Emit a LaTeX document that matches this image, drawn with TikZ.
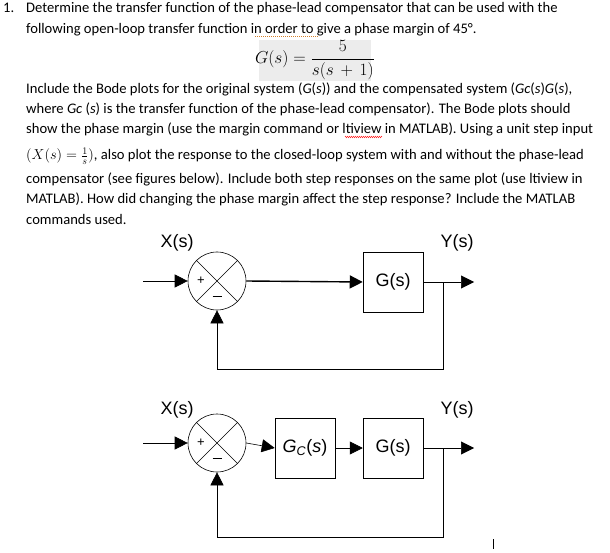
\documentclass[tikz,border=0pt]{standalone}
\usepackage{fontspec}
\setmainfont{Carlito}
\newfontfamily\arial{Liberation Sans}
\usetikzlibrary{arrows.meta,decorations.pathmorphing}
\begin{document}
\begin{tikzpicture}[x=1pt,y=-1pt,
  txt/.style={anchor=base west,inner sep=0,font=\fontsize{14.6}{16}\selectfont},
  blk/.style={draw,line width=0.5pt,minimum width=60pt,minimum height=60pt,inner sep=0,font=\arial\fontsize{18}{20}\selectfont},
  sumc/.style={draw,circle,minimum size=58pt,inner sep=0,line width=0.6pt},
  lab/.style={font=\arial\fontsize{18}{20}\selectfont,inner sep=0},
  pm/.style={font=\arial\fontsize{13}{13}\selectfont,inner sep=0},
  sig/.style={line width=0.6pt,-{Triangle[length=13pt,width=13pt]}},
  ln/.style={line width=0.6pt}]
\useasboundingbox (0,0) rectangle (610,553);
\node[txt] (n1) at (3,13) {1.};
\node[txt] (l1) at (26,13) {Determine the transfer function of the phase-lead compensator that can be used with the};
\node[txt] (l2) at (26,34) {following open-loop transfer function in order to give a phase margin of 45°.};
\draw[densely dotted,line width=1pt,color=brown!70!orange] (255,37) -- (318,37);
\fill[gray!15] (259,40) rectangle (371,81);
\node[anchor=center,inner sep=0,font=\fontsize{17}{19}\selectfont] (eq) at (315,60) {$\displaystyle G(s)=\frac{5}{s(s\,+\,1)}$};
\node[txt] (l3) at (26,94) {Include the Bode plots for the original system (\textit{G}(\textit{s})) and the compensated system (\textit{Gc}(\textit{s})\textit{G}(\textit{s}),};
\node[txt] (l4) at (26,114) {where \textit{Gc} (\textit{s}) is the transfer function of the phase-lead compensator). The Bode plots should};
\node[txt] (l5) at (26,134) {show the phase margin (use the margin command or ltiview in MATLAB). Using a unit step input};
\draw[red,line width=0.4pt,decorate,decoration={zigzag,amplitude=0.7pt,segment length=2pt}] (345,137) -- (382,137);
\node[txt] (l6) at (26,160) {$\bigl(X(s)=\frac{1}{s}\bigr)$, also plot the response to the closed-loop system with and without the phase-lead};
\node[txt] (l7) at (26,184) {compensator (see figures below). Include both step responses on the same plot (use ltiview in};
\node[txt] (l8) at (26,204) {MATLAB). How did changing the phase margin affect the step response? Include the MATLAB};
\node[txt] (l9) at (26,225) {commands used.};

% diagram 1
\node[sumc] (s1) at (217,281) {};
\draw[ln] (s1.45) -- (s1.225) (s1.135) -- (s1.315);
\node[pm] at (201,281) {+};
\node[pm] at (217,297) {\rule[0.3ex]{9pt}{0.9pt}};
\node[blk] (g1) at (393,282) {G(s)};
\coordinate (i1) at (143,281);
\coordinate (b1) at (443,282);
\coordinate (o1) at (474,282);
\coordinate (f1) at (443,369);
\coordinate (f1b) at (217,369);
\draw[sig] (i1) -- (s1.west);
\draw[sig,line width=1.4pt] (s1.east) -- (g1.west);
\draw[ln] (g1.east) -- (b1);
\draw[sig] (b1) -- (o1);
\draw[sig] (b1) -- (f1) -- (f1b) -- (s1.south);
\node[lab] (x1) at (177,243) {X(s)};
\node[lab] (y1) at (457,243) {Y(s)};

% diagram 2
\node[sumc] (s2) at (217,443) {};
\draw[ln] (s2.45) -- (s2.225) (s2.135) -- (s2.315);
\node[pm] at (201,443) {+};
\node[pm] at (217,459) {\rule[0.3ex]{9pt}{0.9pt}};
\node[blk] (gc) at (305,448) {\textit{G\textsubscript{C}}(\textit{s})};
\node[blk] (g2) at (393,448) {G(s)};
\coordinate (i2) at (143,443);
\coordinate (b2) at (443,448);
\coordinate (o2) at (474,448);
\coordinate (f2) at (443,537);
\coordinate (f2b) at (217,537);
\draw[sig] (i2) -- (s2.west);
\draw[sig] (s2.east) -- (gc.west);
\draw[sig] (gc.east) -- (g2.west);
\draw[ln] (g2.east) -- (b2);
\draw[sig] (b2) -- (o2);
\draw[sig] (b2) -- (f2) -- (f2b) -- (s2.south);
\node[lab] (x2) at (177,410) {X(s)};
\node[lab] (y2) at (457,410) {Y(s)};
\coordinate (c1) at (493,539);
\coordinate (c2) at (493,549);
\draw[line width=0.6pt] (c1) -- (c2);
\end{tikzpicture}
\end{document}
